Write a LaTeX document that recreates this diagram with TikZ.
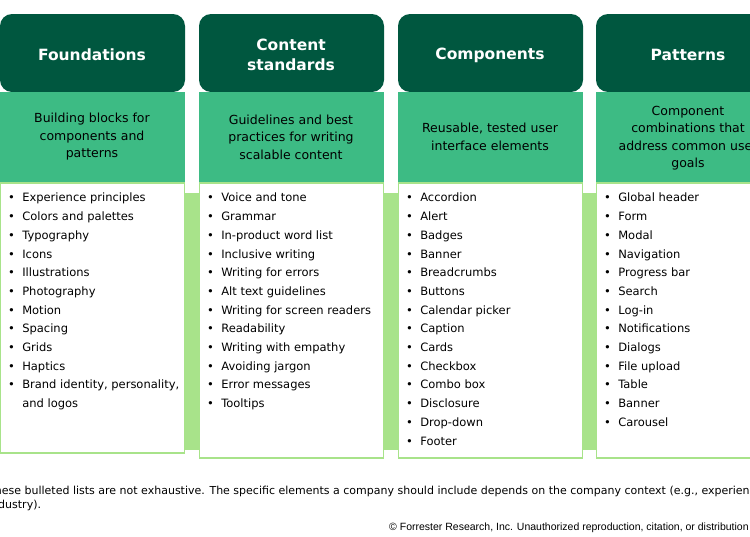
\documentclass[tikz,border=0pt]{standalone}
\usepackage{fontspec}
\setmainfont{DejaVu Sans}
\newfontfamily\narrowf{Liberation Sans}
\definecolor{dk}{HTML}{00573F}
\definecolor{md}{HTML}{3DBB84}
\definecolor{lt}{HTML}{A8E38A}
\begin{document}
\begin{tikzpicture}[x=1pt,y=-1pt,
  hd/.style={text=white,font=\fontsize{15.5}{20}\selectfont\bfseries,align=center},
  sub/.style={text=black,font=\fontsize{12.5}{17.5}\selectfont,align=center},
  li/.style={anchor=north west,font=\fontsize{11.5}{18.7}\selectfont,align=left,inner sep=0pt}]
\useasboundingbox (0,0) rectangle (750,536);
\clip (0,0) rectangle (750,536);
\fill[lt] (0,193) rectangle (780,450);
\foreach \x/\b in {0/453,199/458,398/458,596/458}{
  \fill[dk,rounded corners=12] (\x,92) -- (\x,14) -- (\x+185,14) -- (\x+185,92) -- cycle;
  \fill[md] (\x,92) rectangle (\x+185,183);
  \draw[lt,fill=white,line width=1.2] (\x+0.6,183) rectangle (\x+184.4,\b);
}
\node[hd] (h1) at (92,55) {Foundations};
\node[hd] (h2) at (291,55) {Content\\standards};
\node[hd] (h3) at (490,55) {Components};
\node[hd] (h4) at (688,55) {Patterns};
\node[sub] (s1) at (92,137) {Building blocks for\\components and\\patterns};
\node[sub] (s2) at (291,137) {Guidelines and best\\practices for writing\\scalable content};
\node[sub] (s3) at (490,137) {Reusable, tested user\\interface elements};
\node[sub] (s4) at (688,138) {Component\\combinations that\\address common user\\goals};
\node[li] (l1) at (8,193) {• \ Experience principles\\• \ Colors and palettes\\• \ Typography\\• \ Icons\\• \ Illustrations\\• \ Photography\\• \ Motion\\• \ Spacing\\• \ Grids\\• \ Haptics\\• \ Brand identity, personality,\\\phantom{• \ }and logos};
\node[li] (l2) at (207,193) {• \ Voice and tone\\• \ Grammar\\• \ In-product word list\\• \ Inclusive writing\\• \ Writing for errors\\• \ Alt text guidelines\\• \ Writing for screen readers\\• \ Readability\\• \ Writing with empathy\\• \ Avoiding jargon\\• \ Error messages\\• \ Tooltips};
\node[li] (l3) at (406,193) {• \ Accordion\\• \ Alert\\• \ Badges\\• \ Banner\\• \ Breadcrumbs\\• \ Buttons\\• \ Calendar picker\\• \ Caption\\• \ Cards\\• \ Checkbox\\• \ Combo box\\• \ Disclosure\\• \ Drop-down\\• \ Footer};
\node[li] (l4) at (604,193) {• \ Global header\\• \ Form\\• \ Modal\\• \ Navigation\\• \ Progress bar\\• \ Search\\• \ Log-in\\• \ Notifications\\• \ Dialogs\\• \ File upload\\• \ Table\\• \ Banner\\• \ Carousel};
\node[anchor=north west,inner sep=0pt,align=left,font=\fontsize{11}{14}\selectfont] (fn) at (-12,486) {These bulleted lists are not exhaustive. The specific elements a company should include depends on the company context (e.g., experience maturity,\\industry).};
\node[anchor=west,inner sep=0pt,font=\narrowf\fontsize{10.5}{12}\selectfont] (cp) at (389,528) {© Forrester Research, Inc. Unauthorized reproduction, citation, or distribution prohibited.};
\end{tikzpicture}
\end{document}
